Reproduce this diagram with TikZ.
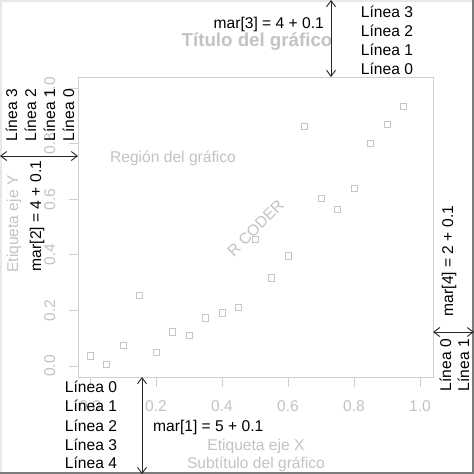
\documentclass[tikz,border=0pt]{standalone}
\usepackage{fontspec}
\setmainfont{Liberation Sans}
\usetikzlibrary{arrows.meta}
\definecolor{txtgray}{RGB}{195,195,195}
\definecolor{boxgray}{RGB}{208,208,208}
\definecolor{ptgray}{RGB}{198,198,198}
\definecolor{frmlight}{RGB}{232,232,232}
\definecolor{frmdark}{RGB}{125,125,125}
\begin{document}
\begin{tikzpicture}[x=1pt,y=-1pt,
  lbl/.style={font=\fontsize{15.6}{19}\selectfont, inner sep=0pt, anchor=base},
  glbl/.style={lbl, text=txtgray},
  vlbl/.style={lbl, rotate=90},
  gvlbl/.style={glbl, rotate=90},
  marrow/.style={{Straight Barb[length=6pt,width=9pt]}-{Straight Barb[length=6pt,width=9pt]}, line width=0.9pt, draw=black!85},
  ptbox/.style={draw=ptgray, line width=0.8pt, minimum size=6.2pt, inner sep=0pt, rectangle},
  tickline/.style={draw=boxgray, line width=0.9pt},
]
\useasboundingbox (0,0) rectangle (474,474);
\fill[white] (0,0) rectangle (474,474);
% frame
\fill[frmlight] (0,0) rectangle (474,2);
\fill[frmlight] (0,0) rectangle (2,474);
\fill[frmdark] (472,0) rectangle (474,474);
\fill[frmdark] (0,472) rectangle (474,474);

% plot box
\draw[tickline] (78,77) rectangle (433,377);
% x ticks and labels
\foreach \v/\t in {0/0.0,0.2/0.2,0.4/0.4,0.6/0.6,0.8/0.8,1/1.0}{
  \draw[tickline] ({90+330*\v},377) -- ({90+330*\v},386.5);
  \node[glbl, anchor=base] (xl\t) at ({90+330*\v},411) {\t};
}
% y ticks and labels
\foreach \v/\t in {0/0.0,0.2/0.2,0.4/0.4,0.6/0.6,0.8/0.8,1/1.0}{
  \draw[tickline] (68.5,{366-278*\v}) -- (78,{366-278*\v});
  \node[gvlbl] (yl\t) at (55,{366-278*\v}) {\t};
}
% points
\foreach \px/\py [count=\i] in {0/0.036,0.05/0.007,0.10/0.073,0.15/0.253,0.20/0.050,0.25/0.123,0.30/0.111,0.35/0.173,0.40/0.191,0.45/0.212,0.50/0.456,0.55/0.317,0.60/0.396,0.65/0.863,0.70/0.603,0.75/0.564,0.80/0.640,0.85/0.802,0.90/0.870,0.95/0.935}{
  \node[ptbox] (p\i) at ({90+330*\px},{366-278*\py}) {};
}

% gray annotations
\node[glbl, font=\bfseries\fontsize{18.7}{22}\selectfont] (title) at (257,46) {Título del gráfico};
\node[glbl] (region) at (173,162) {Región del gráfico};
\node[glbl, anchor=center, rotate=45] (rcoder) at (255.5,228) {R CODER};
\node[glbl] (xlab) at (256,450) {Etiqueta eje X};
\node[glbl] (sub) at (256,468) {Subtítulo del gráfico};
\node[gvlbl] (ylab) at (18,224) {Etiqueta eje Y};

% top margin
\node[lbl] (t3) at (387,17) {Línea 3};
\node[lbl] (t2) at (387,36) {Línea 2};
\node[lbl] (t1) at (387,55) {Línea 1};
\node[lbl] (t0) at (387,74) {Línea 0};
\node[lbl, anchor=base east] (mar3) at (324,28) {mar[3] = 4 + 0.1};
\coordinate (ta) at (331,0);
\coordinate (tb) at (331,77);
\draw[marrow] (ta) -- (tb);

% left margin
\node[vlbl] (l3) at (17,115) {Línea 3};
\node[vlbl] (l2) at (36,115) {Línea 2};
\node[vlbl] (l1) at (55,115) {Línea 1};
\node[vlbl] (l0) at (74,115) {Línea 0};
\node[vlbl] (mar2) at (41,216) {mar[2] = 4 + 0.1};
\coordinate (la) at (0,156);
\coordinate (lb) at (78,156);
\draw[marrow] (la) -- (lb);

% right margin
\node[vlbl] (r0) at (451,365) {Línea 0};
\node[vlbl] (r1) at (469,365) {Línea 1};
\node[vlbl] (mar4) at (453,261) {mar[4] = 2 + 0.1};
\coordinate (ra) at (433,332);
\coordinate (rb) at (474,332);
\draw[marrow] (ra) -- (rb);

% bottom margin
\node[lbl] (b0) at (91,392) {Línea 0};
\node[lbl] (b1) at (91,411.5) {Línea 1};
\node[lbl] (b2) at (91,431) {Línea 2};
\node[lbl] (b3) at (91,450) {Línea 3};
\node[lbl] (b4) at (91,468.5) {Línea 4};
\node[lbl, anchor=base west] (mar1) at (153,431) {mar[1] = 5 + 0.1};
\coordinate (ba) at (142,377);
\coordinate (bb) at (142,474);
\draw[marrow] (ba) -- (bb);
\end{tikzpicture}
\end{document}
